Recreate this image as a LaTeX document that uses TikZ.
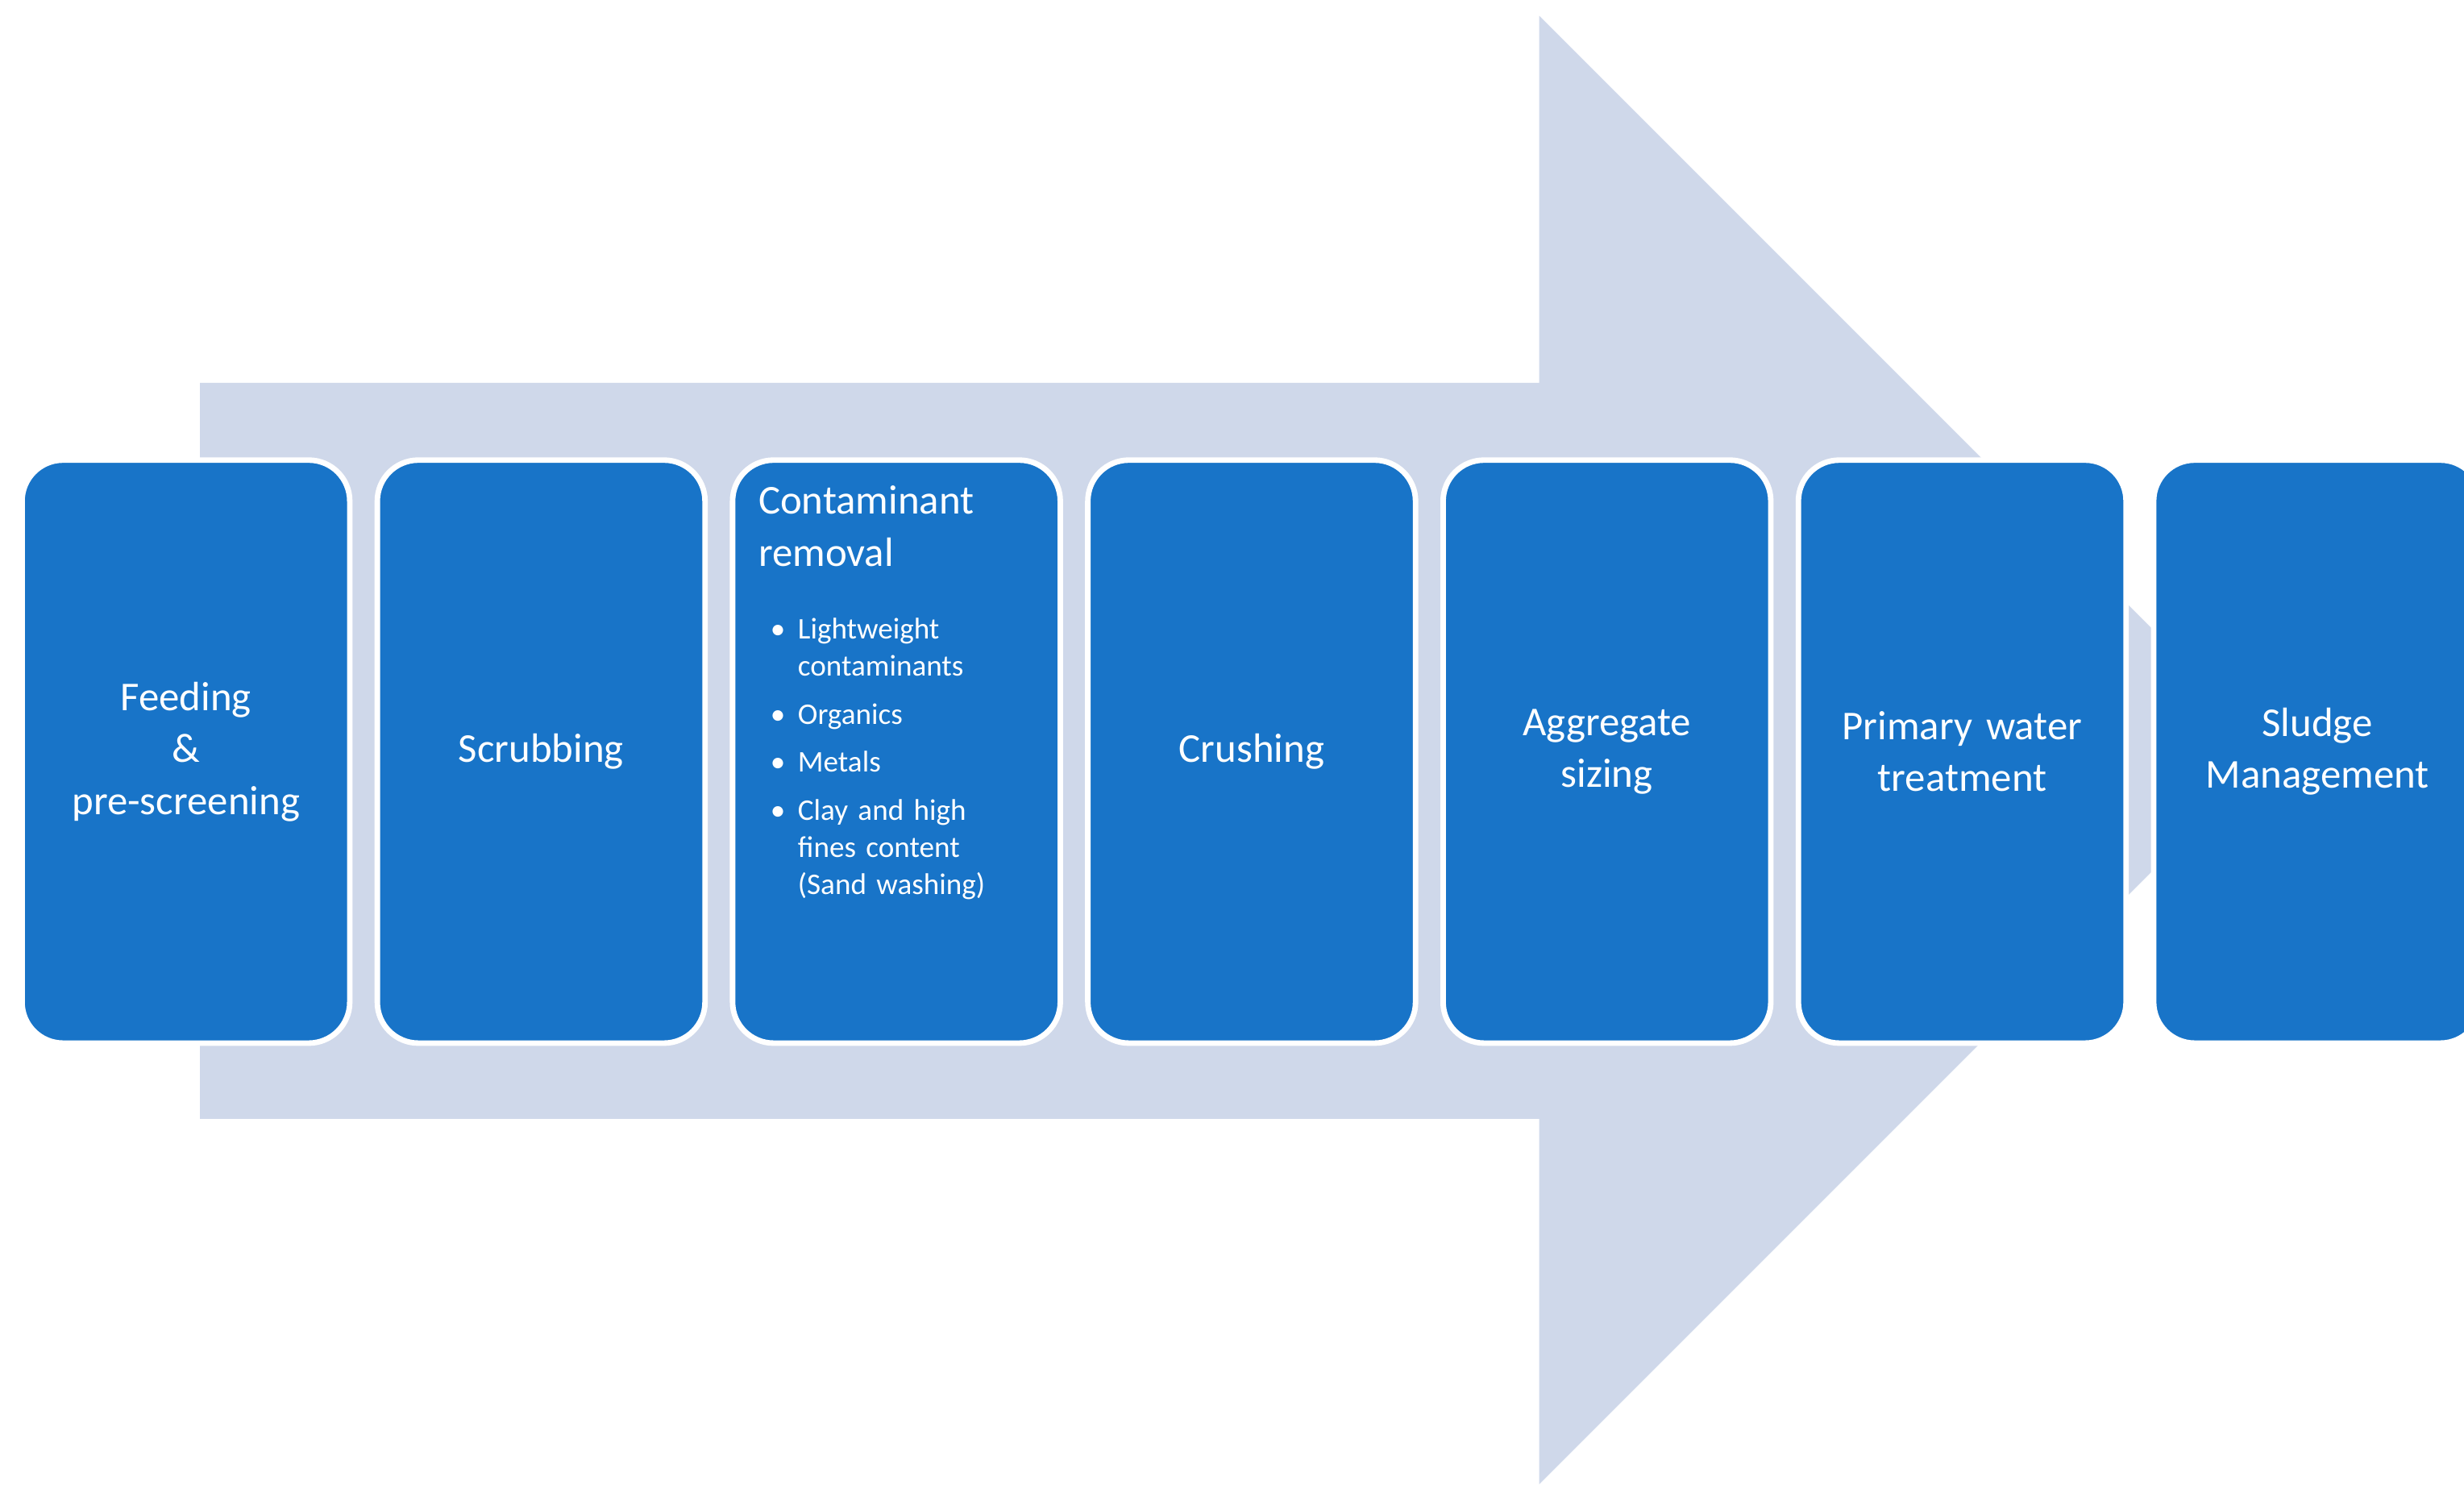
\documentclass[tikz,border=0pt]{standalone}
\usepackage{fontspec}
\setmainfont{Carlito}
\usetikzlibrary{positioning}
\definecolor{stepblue}{HTML}{1874C8}
\definecolor{flowgray}{HTML}{CFD8EA}

\begin{document}
\begin{tikzpicture}[x=1pt, y=-1pt, node distance=14pt]
  \tikzstyle{stage} = [draw=white, line width=3.5pt, fill=stepblue, rectangle, rounded corners=26pt, minimum height=370pt, minimum width=208pt, text width=190pt, align=center, text=white, font={\fontsize{26}{33}\selectfont}, inner sep=0pt]
  \tikzstyle{flow} = [fill=flowgray];

  \useasboundingbox (0,0) rectangle (1564,950);
  % big background arrow
  \fill[flow] (127,243) -- (977,243) -- (977,10) -- (1443,476) -- (977,942) -- (977,710) -- (127,710) -- cycle;

  \node[stage] (feed) at (118,477) {Feeding\\ \&\\ pre-screening};
  \node[stage, right=of feed] (scrub) {Scrubbing};
  \node[stage, right=of scrub] (contam) {};
  \node[stage, right=of contam] (crush) {Crushing};
  \node[stage, right=of crush] (sizing) {Aggregate\\ sizing};
  \node[stage, right=of sizing] (water) {Primary water\\ treatment};
  \node[stage, right=of water] (sludge) {Sludge\\ Management};

  \node[anchor=north west, text=white, align=left, inner sep=0pt, font={\fontsize{26}{33}\selectfont}] (contamtitle) at ([xshift=18pt, yshift=-18pt]contam.north west) {Contaminant\\ removal};
  \node[text=white, text width=175pt, inner sep=0pt, font={\fontsize{19}{23.5}\selectfont}, anchor=north west] (contamlist) at ([yshift=-14pt]contamtitle.south west) {%
    \begin{itemize}\setlength{\itemsep}{3pt}\setlength{\parsep}{0pt}\setlength{\topsep}{0pt}\setlength{\leftmargin}{20pt}\setlength{\labelsep}{8pt}\setlength{\labelwidth}{12pt}
      \item Lightweight contaminants
      \item Organics
      \item Metals
      \item Clay and high fines content (Sand washing)
    \end{itemize}};
\end{tikzpicture}
\end{document}
